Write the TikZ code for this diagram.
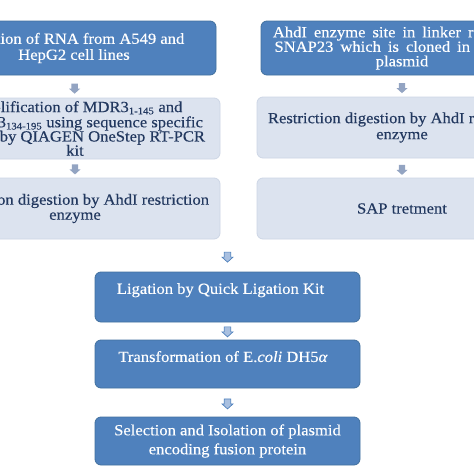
\documentclass[tikz,border=0pt]{standalone}
\usepackage{fontspec}
\setmainfont{Liberation Serif}[FakeStretch=1.07,FakeBold=0.35]
\usetikzlibrary{calc}
\definecolor{boxblue}{HTML}{4F81BD}
\definecolor{boxedge}{HTML}{42719F}
\definecolor{lightfill}{HTML}{DCE3EF}
\definecolor{lightedge}{HTML}{CDD6E6}
\definecolor{navytext}{HTML}{22385F}
\definecolor{arrgray}{HTML}{93A4C2}
\definecolor{arrfill}{HTML}{A9C0E0}
\newcommand\subtxt[1]{\textsubscript{\fontsize{10}{10}\selectfont #1}}
\newcommand\widewords{\spaceskip=0.45em plus 0.1em\relax}
\tikzset{
  darkbox/.style={draw=boxedge, line width=0.8pt, fill=boxblue, rounded corners=6pt, text=white,
    align=center, inner sep=0pt, font=\fontsize{15.5}{16}\selectfont},
  lightbox/.style={draw=lightedge, line width=0.8pt, fill=lightfill, rounded corners=6pt, text=navytext,
    align=center, inner sep=0pt, font=\fontsize{15.5}{15}\selectfont},
  darr/.pic={\path[pic actions] (-3.2,-5) -- (3.2,-5) -- (3.2,0) -- (5.5,0) -- (0,5) -- (-5.5,0) -- (-3.2,0) -- cycle;},
  uparr/.style={fill=arrgray, draw=none},
  lowarr/.style={fill=arrfill, draw=boxblue, line width=0.7pt},
}
\begin{document}
\begin{tikzpicture}[x=1pt,y=-1pt]
\useasboundingbox (0,0) rectangle (474,474);
\fill[white] (0,0) rectangle (474,474);
\clip (0,0) rectangle (474,474);
% top row
\node[darkbox, minimum width=284pt, minimum height=54pt] (tl) at (74,48)
  {Isolation of RNA from A549 and\\HepG2 cell lines};
\node[darkbox, minimum width=282pt, minimum height=54pt, font=\fontsize{15.5}{14.5}\selectfont\widewords] (tr) at (402,48)
  {AhdI enzyme site in linker region of\\SNAP23 which is cloned in pET28a\\plasmid};
% second row
\node[lightbox, minimum width=290pt, minimum height=61pt, font=\fontsize{15.5}{14.2}\selectfont] (l2) at (75,128.5)
  {Amplification of MDR3\subtxt{1-145} and\\SNAP23\subtxt{134-195} using sequence specific\\primers by QIAGEN OneStep RT-PCR\\kit};
\node[lightbox, minimum width=290pt, minimum height=61pt, font=\fontsize{15.5}{16}\selectfont] (r2) at (402,127.5)
  {Restriction digestion by AhdI restriction\\enzyme};
% third row
\node[lightbox, minimum width=290pt, minimum height=61pt] (l3) at (75,208.5)
  {Restriction digestion by AhdI restriction\\enzyme};
\node[lightbox, minimum width=290pt, minimum height=61pt] (r3) at (402,208.5)
  {SAP tretment};
% lower column
\node[darkbox, minimum width=265pt, minimum height=50pt, font=\fontsize{15.5}{17}\selectfont] (lig) at (227.5,297)
  {Ligation by Quick Ligation Kit\hspace*{14pt}\\\mbox{}};
\node[darkbox, minimum width=265pt, minimum height=48pt, font=\fontsize{15.5}{15}\selectfont] (tra) at (227.5,364)
  {Transformation of E.\textit{coli} DH5\textit{α}\hspace*{9pt}\\\mbox{}};
\node[darkbox, minimum width=265pt, minimum height=48pt, font=\fontsize{15.5}{19}\selectfont] (sel) at (227.5,441)
  {Selection and Isolation of plasmid\\encoding fusion protein};
% connectors
\coordinate (a1) at ($(tl.south)!0.6!(l2.north)$);
\coordinate (a2) at ($(tr.south)!0.6!(r2.north)$);
\coordinate (a3) at ($(l2.south)!0.55!(l3.north)$);
\coordinate (a4) at ($(r2.south)!0.6!(r3.north)$);
\coordinate (m1) at (lig.north |- l3.south);
\coordinate (a5) at ($(m1)!0.55!(lig.north)$);
\coordinate (a6) at ($(lig.south)!0.55!(tra.north)$);
\coordinate (a7) at ($(tra.south)!0.55!(sel.north)$);
\pic[uparr] at (a1) {darr};
\pic[uparr] at (a2) {darr};
\pic[uparr] at (a3) {darr};
\pic[uparr] at (a4) {darr};
\pic[lowarr] at (a5) {darr};
\pic[lowarr] at (a6) {darr};
\pic[lowarr] at (a7) {darr};
\end{tikzpicture}
\end{document}
